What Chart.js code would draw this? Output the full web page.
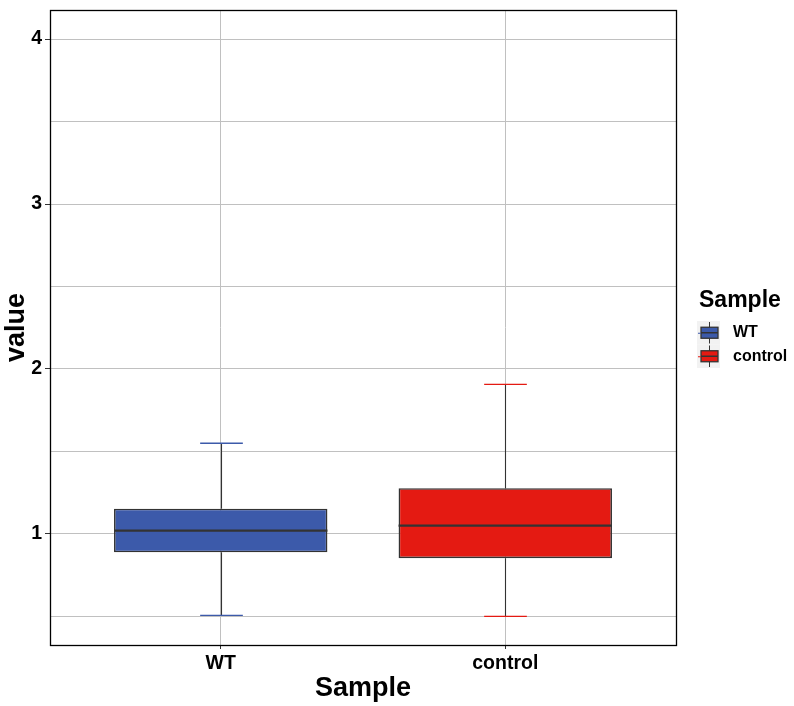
<!DOCTYPE html>
<html>
<head>
<meta charset="utf-8">
<script src="https://cdn.jsdelivr.net/npm/chart.js@4.4.1/dist/chart.umd.min.js"></script>
<style>
  html, body { margin: 0; padding: 0; background: #fff; }
  canvas { display: block; }
</style>
</head>
<body>
<canvas id="boxChart" width="794" height="706"></canvas>
<script>
// box plot of value by Sample, drawn from floating bars plus whiskers

const categories = ['WT', 'control'];
const whiskerLow = [0.507, 0.501];
const q1 = [0.889, 0.853];
const median = [1.020, 1.050];
const q3 = [1.153, 1.277];
const whiskerHigh = [1.550, 1.907];
const boxColors = ['#3C5AAA', '#E41A12'];

const yGridValues = [0.5, 1, 1.5, 2, 2.5, 3, 3.5, 4];
const yTickLabels = ['', '1', '', '2', '', '3', '', '4'];

Chart.defaults.font.family = '"Liberation Sans", Arial, sans-serif';
Chart.defaults.color = '#000';

// whiskers, caps and median line on top of the bars
const boxplotExtras = {
    id: 'boxplotExtras',
    afterDatasetsDraw(chart) {
        const ctx = chart.ctx;
        const yScale = chart.scales.y;
        const bars = chart.getDatasetMeta(0).data;
        ctx.save();
        bars.forEach((bar, i) => {
            const cx = Math.round(bar.x) + 0.5;
            const half = bar.width / 2;
            const capHalf = half * 0.2;
            const yHigh = yScale.getPixelForValue(whiskerHigh[i]);
            const yLow = yScale.getPixelForValue(whiskerLow[i]);
            const yQ1 = yScale.getPixelForValue(q1[i]);
            const yQ3 = yScale.getPixelForValue(q3[i]);
            const yMed = yScale.getPixelForValue(median[i]);

            ctx.strokeStyle = '#333333';
            ctx.lineWidth = 1.1;
            ctx.beginPath();
            ctx.moveTo(cx, yQ3);
            ctx.lineTo(cx, yHigh);
            ctx.moveTo(cx, yQ1);
            ctx.lineTo(cx, yLow);
            ctx.stroke();

            ctx.strokeStyle = boxColors[i];
            ctx.lineWidth = 1.3;
            ctx.beginPath();
            ctx.moveTo(cx - capHalf, yHigh);
            ctx.lineTo(cx + capHalf, yHigh);
            ctx.moveTo(cx - capHalf, yLow);
            ctx.lineTo(cx + capHalf, yLow);
            ctx.stroke();

            ctx.strokeStyle = '#333333';
            ctx.lineWidth = 2.2;
            ctx.beginPath();
            ctx.moveTo(bar.x - half, yMed);
            ctx.lineTo(bar.x + half, yMed);
            ctx.stroke();
        });
        ctx.restore();
    }
};

// panel border and the legend on the right
const panelAndLegend = {
    id: 'panelAndLegend',
    afterDraw(chart) {
        const ctx = chart.ctx;
        const area = chart.chartArea;
        ctx.save();
        ctx.strokeStyle = '#000';
        ctx.lineWidth = 1.3;
        ctx.strokeRect(area.left + 0.5, area.top + 0.5, area.right - area.left, area.bottom - area.top);

        const x0 = area.right + 21;
        ctx.fillStyle = '#000';
        ctx.font = 'bold 23px "Liberation Sans", Arial, sans-serif';
        ctx.textAlign = 'left';
        ctx.textBaseline = 'alphabetic';
        ctx.fillText('Sample', x0 + 2, 307);

        const keyTop = 321;
        const keySize = 23.5;
        categories.forEach((cat, i) => {
            const top = keyTop + i * keySize;
            const mid = top + keySize / 2;
            ctx.fillStyle = '#F2F2F2';
            ctx.fillRect(x0, top, 23, keySize);

            ctx.strokeStyle = '#333333';
            ctx.lineWidth = 1;
            ctx.beginPath();
            ctx.moveTo(x0 + 12.5, top + 1);
            ctx.lineTo(x0 + 12.5, top + keySize - 1);
            ctx.stroke();

            ctx.fillStyle = boxColors[i];
            ctx.fillRect(x0 + 4, mid - 5.5, 17, 11);
            ctx.lineWidth = 1.3;
            ctx.strokeRect(x0 + 4, mid - 5.5, 17, 11);

            ctx.strokeStyle = boxColors[i];
            ctx.lineWidth = 1;
            ctx.beginPath();
            ctx.moveTo(x0 + 1, mid + 0.5);
            ctx.lineTo(x0 + 4, mid + 0.5);
            ctx.stroke();
            ctx.strokeStyle = '#333333';
            ctx.lineWidth = 1.5;
            ctx.beginPath();
            ctx.moveTo(x0 + 4, mid);
            ctx.lineTo(x0 + 21, mid);
            ctx.stroke();

            ctx.fillStyle = '#000';
            ctx.font = 'bold 16px "Liberation Sans", Arial, sans-serif';
            ctx.textBaseline = 'middle';
            ctx.fillText(cat, x0 + 36, mid);
        });
        ctx.restore();
    }
};

const ctx = document.getElementById('boxChart').getContext('2d');

new Chart(ctx, {
    type: 'bar',
    data: {
        datasets: [{
            label: 'Sample',
            data: categories.map((c, i) => ({ x: i + 1, y: [q1[i], q3[i]] })),
            backgroundColor: boxColors,
            borderColor: '#333333',
            borderWidth: 1.6,
            borderSkipped: false,
            barPercentage: 0.75,
            categoryPercentage: 1
        }]
    },
    options: {
        responsive: false,
        animation: false,
        layout: { padding: { top: 10, right: 118, left: 0, bottom: 0 } },
        plugins: {
            legend: { display: false },
            tooltip: { enabled: false }
        },
        scales: {
            x: {
                type: 'linear',
                min: 0.4,
                max: 2.6,
                offset: false,
                afterBuildTicks: scale => {
                    scale.ticks = categories.map((c, i) => ({ value: i + 1 }));
                },
                afterFit: scale => {
                    scale.height = 61;
                    scale.paddingLeft = 0;
                    scale.paddingRight = 0;
                },
                ticks: {
                    callback: value => categories[value - 1],
                    font: { size: 19.5, weight: 'bold' },
                    color: '#000',
                    padding: 3,
                    maxRotation: 0
                },
                grid: {
                    offset: false,
                    color: '#C0C0C0',
                    tickColor: '#333333',
                    tickLength: 4
                },
                border: { display: false },
                title: {
                    display: true,
                    text: 'Sample',
                    font: { size: 27, weight: 'bold', lineHeight: 1.2 },
                    color: '#000',
                    padding: { top: 0, bottom: 1 }
                }
            },
            y: {
                min: 0.327,
                max: 4.176,
                beginAtZero: false,
                afterBuildTicks: scale => {
                    scale.ticks = yGridValues.map(v => ({ value: v }));
                },
                afterFit: scale => {
                    scale.width = 50;
                    scale.paddingTop = 0;
                    scale.paddingBottom = 0;
                },
                ticks: {
                    callback: value => yTickLabels[yGridValues.indexOf(value)],
                    font: { size: 19.5, weight: 'bold' },
                    color: '#000',
                    padding: 3
                },
                grid: {
                    color: '#C0C0C0',
                    tickColor: context => yTickLabels[context.index] ? '#333333' : 'rgba(0,0,0,0)',
                    tickLength: 5
                },
                border: { display: false },
                title: {
                    display: true,
                    text: 'value',
                    font: { size: 27, weight: 'bold', lineHeight: 1.2 },
                    color: '#000',
                    padding: { top: 0, bottom: 0 }
                }
            }
        }
    },
    plugins: [boxplotExtras, panelAndLegend]
});
</script>
</body>
</html>
